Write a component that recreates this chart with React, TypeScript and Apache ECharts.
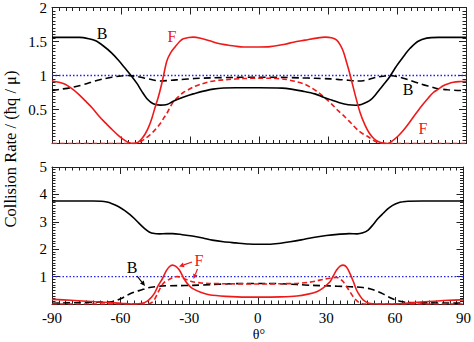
import React, { useEffect, useRef } from "react";
import * as echarts from "echarts";

const FONT = "Liberation Serif";

const xTickValues = [-90, -60, -30, 0, 30, 60, 90];
const topYTicks = [0, 0.5, 1, 1.5, 2];
const bottomYTicks = [0, 1, 2, 3, 4, 5];
const referenceLevel = 1;

const topBSolid: [number, number][] = [
  [-90, 1.56], [-78, 1.56], [-74, 1.54], [-71, 1.51], [-67.5, 1.43], [-64, 1.33], [-61, 1.22],
  [-58.3, 1.11], [-55.4, 0.99], [-53, 0.88], [-51, 0.77], [-48.5, 0.65], [-46, 0.585], [-43, 0.565],
  [-40, 0.575], [-37.3, 0.62], [-33, 0.68], [-28.6, 0.73], [-20, 0.8], [-10, 0.82], [0, 0.82],
  [10, 0.815], [14, 0.8], [19, 0.77], [24.3, 0.73], [28, 0.68], [31.6, 0.64], [35, 0.6], [38.8, 0.57],
  [42, 0.563], [44.5, 0.575], [47, 0.61], [48.5, 0.64], [50.5, 0.71], [52.6, 0.8], [55, 0.9], [57, 0.99],
  [59, 1.1], [61.3, 1.21], [63.5, 1.31], [65.7, 1.4], [69, 1.5], [72.9, 1.55], [78, 1.56], [90, 1.56],
];

const topFSolid: [number, number][] = [
  [-90, 0.92], [-87, 0.9], [-84.3, 0.87], [-81.5, 0.81], [-78.6, 0.73], [-75.6, 0.63], [-72.7, 0.53],
  [-70, 0.42], [-67, 0.31], [-64, 0.21], [-61.2, 0.12], [-59, 0.06], [-56.8, 0.015], [-54, 0],
  [-52.5, 0.02], [-51, 0.07], [-49.5, 0.14], [-48, 0.24], [-46.5, 0.38], [-45.2, 0.53], [-43.8, 0.68],
  [-42.5, 0.85], [-41.5, 1.0], [-40.1, 1.21], [-38.5, 1.33], [-36.5, 1.42], [-34.5, 1.5], [-32.9, 1.54],
  [-30.5, 1.56], [-28.6, 1.565], [-25, 1.545], [-21.3, 1.51], [-17.5, 1.47], [-14, 1.45], [-10, 1.43],
  [-6.8, 1.42], [0, 1.42], [4.8, 1.425], [11.3, 1.46], [15, 1.49], [20, 1.52], [25, 1.55], [28.7, 1.565],
  [31.5, 1.555], [33.8, 1.52], [35.3, 1.45], [36.7, 1.35], [38.2, 1.18], [39.6, 1.01], [41.7, 0.73],
  [43.9, 0.46], [46.1, 0.27], [48, 0.15], [50, 0.07], [52, 0.025], [54, 0.005], [56, 0], [58.4, 0.05],
  [60.5, 0.11], [62.7, 0.19], [65, 0.29], [67.1, 0.39], [69.3, 0.49], [71.4, 0.58], [73.6, 0.67],
  [75.8, 0.75], [78, 0.8], [80.1, 0.85], [82.3, 0.88], [84.5, 0.9], [87, 0.91], [90, 0.915],
];

const topBDashed: [number, number][] = [
  [-90, 0.78], [-85.8, 0.8], [-82, 0.82], [-78.6, 0.845], [-75, 0.88], [-71.3, 0.92], [-67.5, 0.95],
  [-64, 0.975], [-60, 0.993], [-56.8, 1.0], [-53, 0.985], [-49.6, 0.96], [-46, 0.935], [-43, 0.92],
  [-38, 0.93], [-34.3, 0.94], [-28, 0.955], [-21.3, 0.965], [-10, 0.972], [0, 0.975], [10, 0.972],
  [18, 0.965], [24.3, 0.96], [31, 0.95], [35, 0.94], [38.8, 0.93], [42, 0.92], [44.6, 0.92], [48, 0.945],
  [51.2, 0.975], [54, 0.99], [57, 1.0], [60, 0.985], [62.7, 0.96], [66, 0.925], [70, 0.88], [73.5, 0.845],
  [77.3, 0.81], [82, 0.79], [87.4, 0.78], [90, 0.78],
];

const topFDashed: [number, number][] = [
  [-90, 0], [-60, 0], [-55, 0], [-52, 0.02], [-49.6, 0.07], [-47.3, 0.13], [-45.2, 0.2], [-43, 0.29],
  [-41.5, 0.37], [-40.1, 0.44], [-38.7, 0.53], [-37.3, 0.61], [-35, 0.69], [-32.9, 0.75], [-30.7, 0.79],
  [-28.6, 0.83], [-25, 0.875], [-21.3, 0.91], [-17.5, 0.93], [-14, 0.94], [-6.8, 0.955], [0, 0.96],
  [4.8, 0.96], [11.3, 0.945], [15.5, 0.915], [20, 0.87], [23, 0.815], [25.8, 0.75], [28.7, 0.67],
  [31.6, 0.58], [34.5, 0.48], [37.4, 0.39], [40.3, 0.29], [43.2, 0.19], [45.3, 0.14], [47.5, 0.1],
  [50, 0.04], [52.6, 0.01], [55, 0], [90, 0],
];

const bottomBSolid: [number, number][] = [
  [-90, 3.76], [-80, 3.76], [-72, 3.76], [-68.4, 3.75], [-66, 3.72], [-64, 3.67], [-61, 3.56],
  [-58.3, 3.42], [-56, 3.27], [-54, 3.12], [-52, 2.95], [-49.6, 2.76], [-47.5, 2.63], [-45.2, 2.57],
  [-43, 2.56], [-40, 2.57], [-37.3, 2.57], [-33, 2.53], [-28.6, 2.48], [-24, 2.41], [-19.9, 2.33],
  [-15, 2.27], [-9.7, 2.23], [-4, 2.19], [0.4, 2.18], [5, 2.18], [10, 2.22], [14.2, 2.27], [19, 2.34],
  [24.3, 2.43], [30, 2.5], [36, 2.55], [40, 2.57], [43.5, 2.56], [46, 2.6], [48.3, 2.7], [50.5, 2.9],
  [52.6, 3.12], [55, 3.32], [57, 3.48], [59, 3.6], [61.3, 3.69], [63.5, 3.73], [65.7, 3.75], [72, 3.76],
  [90, 3.76],
];

const bottomFSolid: [number, number][] = [
  [-90, 0.17], [-85, 0.15], [-78.6, 0.12], [-71, 0.08], [-64, 0.05], [-59, 0.02], [-55.4, 0],
  [-52, 0.01], [-49.6, 0.05], [-47.5, 0.16], [-45.2, 0.39], [-43.5, 0.68], [-41.6, 0.94], [-40.1, 1.2],
  [-38.7, 1.36], [-37.3, 1.42], [-35.8, 1.37], [-34.3, 1.24], [-32.9, 1.03], [-31.4, 0.81], [-30, 0.67],
  [-28.6, 0.57], [-25, 0.43], [-21.3, 0.34], [-14, 0.28], [-5, 0.25], [0.4, 0.25], [10, 0.26],
  [17.1, 0.29], [22, 0.36], [25.8, 0.45], [28.5, 0.58], [31.6, 0.81], [33, 1.02], [34.5, 1.24],
  [36, 1.38], [37.4, 1.42], [38.8, 1.35], [40.3, 1.12], [41.8, 0.82], [43.2, 0.51], [44.7, 0.3],
  [46.1, 0.15], [48.3, 0.04], [50.5, 0.01], [55, 0], [62, 0.01], [67, 0.04], [72.9, 0.08], [80, 0.12],
  [88.7, 0.15], [90, 0.15],
];

const bottomBDashed: [number, number][] = [
  [-90, 0.03], [-78, 0.05], [-68, 0.07], [-64, 0.08], [-62, 0.12], [-59.7, 0.2], [-57.5, 0.3],
  [-55.4, 0.39], [-53, 0.46], [-51, 0.51], [-48.8, 0.57], [-46.7, 0.61], [-41.6, 0.66], [-35, 0.67],
  [-28.6, 0.68], [-20, 0.71], [-14, 0.73], [-5, 0.75], [4.8, 0.75], [10, 0.74], [17.1, 0.71], [24, 0.68],
  [31.6, 0.66], [38, 0.64], [43.2, 0.62], [46, 0.6], [48.3, 0.57], [50.5, 0.52], [52.6, 0.45], [55, 0.36],
  [57, 0.27], [59, 0.19], [61.3, 0.12], [63.5, 0.08], [65.7, 0.05], [75, 0.04], [90, 0.03],
];

const bottomFDashed: [number, number][] = [
  [-90, 0], [-50, 0], [-47, 0.03], [-45.5, 0.12], [-43.8, 0.39], [-42.5, 0.6], [-41, 0.78],
  [-38.7, 0.9], [-36.5, 0.99], [-35, 1.0], [-33, 0.95], [-30.5, 0.87], [-28.6, 0.81], [-25, 0.77],
  [-21.3, 0.75], [-10, 0.735], [4.8, 0.73], [10, 0.74], [17.1, 0.75], [22, 0.79], [25.5, 0.84],
  [28.7, 0.9], [31.5, 0.94], [34.5, 0.97], [36, 0.92], [37.4, 0.81], [38.8, 0.64], [40.3, 0.45],
  [42, 0.24], [43.9, 0.08], [45.5, 0.02], [47, 0], [90, 0],
];

const BLACK = "#000000";
const RED = "#ee1a1a";
const BLUE = "#2222ee";
const AXIS = "#222222";

function xAxisCfg(gridIndex: number, position: "top" | "bottom", showLabels: boolean) {
  return {
    type: "value",
    gridIndex,
    position,
    min: xTickValues[0],
    max: xTickValues[xTickValues.length - 1],
    interval: xTickValues[1] - xTickValues[0],
    axisLine: { show: true, onZero: false, lineStyle: { color: AXIS, width: 1 } },
    axisTick: { show: true, inside: true, length: 7, lineStyle: { color: AXIS, width: 1 } },
    minorTick: { show: true, splitNumber: 10, length: 3.5, lineStyle: { color: AXIS, width: 1 } },
    splitLine: { show: false },
    axisLabel: {
      show: showLabels,
      color: "#000",
      fontFamily: FONT,
      fontSize: 15,
      margin: 6,
    },
  };
}

function yAxisCfg(gridIndex: number, position: "left" | "right", ticks: number[], showLabels: boolean) {
  return {
    type: "value",
    gridIndex,
    position,
    min: ticks[0],
    max: ticks[ticks.length - 1],
    interval: ticks[1] - ticks[0],
    axisLine: { show: true, onZero: false, lineStyle: { color: AXIS, width: 1 } },
    axisTick: { show: true, inside: true, length: 7, lineStyle: { color: AXIS, width: 1 } },
    minorTick: { show: true, splitNumber: 10, length: 3.5, lineStyle: { color: AXIS, width: 1 } },
    splitLine: { show: false },
    axisLabel: {
      show: showLabels,
      color: "#000",
      fontFamily: FONT,
      fontSize: 15,
      margin: 5,
      formatter: (v: number) => (v === 0 ? "" : String(v)),
    },
  };
}

function lineSeries(
  data: [number, number][],
  axisIdx: number,
  color: string,
  type: "solid" | number[],
  z = 3
) {
  return {
    type: "line",
    xAxisIndex: axisIdx,
    yAxisIndex: axisIdx,
    data,
    smooth: 0.3,
    showSymbol: false,
    symbol: "none",
    lineStyle: { color, width: 1.6, type },
    z,
    silent: true,
  };
}

function refLine(axisIdx: number) {
  return {
    type: "line",
    xAxisIndex: axisIdx,
    yAxisIndex: axisIdx,
    data: [
      [xTickValues[0], referenceLevel],
      [xTickValues[xTickValues.length - 1], referenceLevel],
    ],
    showSymbol: false,
    symbol: "none",
    lineStyle: { color: BLUE, width: 1.3, type: [1.5, 2] },
    z: 2,
    silent: true,
  };
}

function arrow(x1: number, y1: number, x2: number, y2: number, color: string) {
  const dx = x2 - x1;
  const dy = y2 - y1;
  const len = Math.sqrt(dx * dx + dy * dy);
  const ux = dx / len;
  const uy = dy / len;
  const hl = 5;
  const hw = 2.4;
  const bx = x2 - ux * hl;
  const by = y2 - uy * hl;
  return [
    {
      type: "line",
      shape: { x1, y1, x2: bx, y2: by },
      style: { stroke: color, lineWidth: 1.2 },
      z: 10,
    },
    {
      type: "polygon",
      shape: {
        points: [
          [x2, y2],
          [bx - uy * hw, by + ux * hw],
          [bx + uy * hw, by - ux * hw],
        ],
      },
      style: { fill: color },
      z: 10,
    },
  ];
}

function label(text: string, x: number, y: number, color: string, size = 16) {
  return {
    type: "text",
    x,
    y,
    z: 10,
    style: {
      text,
      fill: color,
      font: `${size}px "${FONT}"`,
      align: "center",
      verticalAlign: "middle",
    },
  };
}

export default function App() {
  const ref = useRef<HTMLDivElement>(null);

  useEffect(() => {
    if (!ref.current) return;
    const chart = echarts.init(ref.current, null, { renderer: "svg" });
    const option: any = {
      animation: false,
      backgroundColor: "#ffffff",
      grid: [
        { left: 52, top: 6, width: 414, height: 137.5 },
        { left: 52, top: 167, width: 414, height: 137 },
      ],
      xAxis: [
        xAxisCfg(0, "bottom", false),
        xAxisCfg(0, "top", false),
        xAxisCfg(1, "bottom", true),
        xAxisCfg(1, "top", false),
      ],
      yAxis: [
        yAxisCfg(0, "left", topYTicks, true),
        yAxisCfg(0, "right", topYTicks, false),
        yAxisCfg(1, "left", bottomYTicks, true),
        yAxisCfg(1, "right", bottomYTicks, false),
      ],
      series: [
        refLine(0),
        lineSeries(topBDashed, 0, BLACK, [7, 4]),
        lineSeries(topFDashed, 0, RED, [5, 3]),
        lineSeries(topBSolid, 0, BLACK, "solid"),
        lineSeries(topFSolid, 0, RED, "solid"),
        refLine(2),
        lineSeries(bottomBDashed, 2, BLACK, [7, 4]),
        lineSeries(bottomFDashed, 2, RED, [5, 3]),
        lineSeries(bottomBSolid, 2, BLACK, "solid"),
        lineSeries(bottomFSolid, 2, RED, "solid"),
      ],
      graphic: [
        {
          type: "text",
          x: 10,
          y: 149,
          rotation: Math.PI / 2,
          style: {
            text: "Collision Rate / (\u0127q / \u03bc)",
            fill: "#000",
            font: `16.5px "${FONT}"`,
            align: "center",
            verticalAlign: "middle",
          },
        },
        {
          type: "text",
          x: 259,
          y: 334,
          style: {
            text: "\u03b8\u00b0",
            fill: "#000",
            font: `14px "${FONT}"`,
            align: "center",
            verticalAlign: "middle",
          },
        },
        label("B", 102, 33, BLACK),
        label("F", 172, 36, RED),
        label("B", 408, 89, BLACK),
        label("F", 423, 128, RED),
        label("B", 132, 267, BLACK),
        label("F", 199, 260, RED),
        ...arrow(137, 276, 145, 286, BLACK),
        ...arrow(192, 262, 179, 266.5, RED),
        ...arrow(197.5, 269, 193.5, 279, RED),
      ],
    };
    chart.setOption(option);
    return () => chart.dispose();
  }, []);

  return (
    <div
      ref={ref}
      style={{ position: "absolute", left: 0, top: 0, width: 474, height: 342 }}
    />
  );
}
